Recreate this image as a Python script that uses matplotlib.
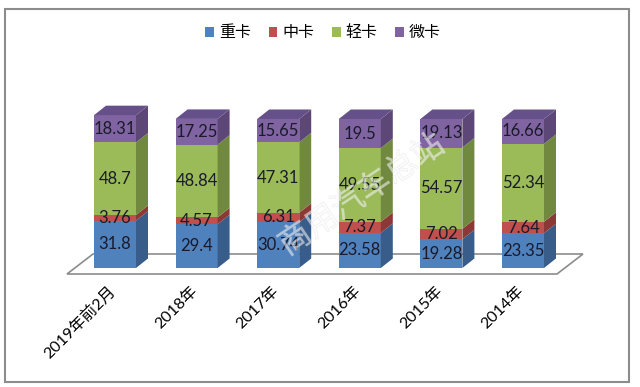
# -*- coding: utf-8 -*-

import numpy as np
from matplotlib import pyplot as plt
from matplotlib.patches import Polygon, Rectangle, Patch
from matplotlib import patheffects as pe

plt.rcParams['font.family'] = ['Lato', 'Noto Sans CJK SC', 'DejaVu Sans']

categories = ['2019年前2月', '2018年', '2017年', '2016年', '2015年', '2014年']
series_names = ['重卡', '中卡', '轻卡', '微卡']
heavy = [31.8, 29.4, 30.74, 23.58, 19.28, 23.35]
medium = [3.76, 4.57, 6.31, 7.37, 7.02, 7.64]
light = [48.7, 48.84, 47.31, 49.55, 54.57, 52.34]
micro = [18.31, 17.25, 15.65, 19.5, 19.13, 16.66]

front_cols = ['#4F81BD', '#C0504D', '#9BBB59', '#8064A2']
side_cols = ['#385D8A', '#8C3836', '#71893F', '#5C4776']
top_cols = ['#446EA3', '#A54543', '#86A34B', '#66508A']

W, H = 640, 387
fig = plt.figure(figsize=(W / 100, H / 100), dpi=100)

# axes: x index 0 at px 115, 81.6 px per bar; y=0 at px 268, 1.49 px per unit
px_x0, px_y0, sx, sy = 115, 268, 81.6, 1.49
ax_l, ax_r, ax_t, ax_b = 60, 600, 100, 300
ax = fig.add_axes([ax_l / W, (H - ax_b) / H, (ax_r - ax_l) / W, (ax_b - ax_t) / H])
ax.set_xlim((ax_l - px_x0) / sx, (ax_r - px_x0) / sx)
ax.set_ylim((px_y0 - ax_b) / sy, (px_y0 - ax_t) / sy)
ax.axis('off')

# floor
fy0, fy1 = (px_y0 - 274) / sy, (px_y0 - 254) / sy
fx0, fx1, fdx = (67 - px_x0) / sx, (557 - px_x0) / sx, 26 / sx
ax.add_patch(Polygon([(fx0, fy0), (fx1, fy0), (fx1 + fdx, fy1), (fx0 + fdx, fy1)],
                     closed=True, facecolor='white', edgecolor='#8c8c8c', lw=1.2, zorder=1))

x = np.arange(len(categories))
width = 42 / sx
dx, dy = 12 / sx, 9.5 / sy
data = [heavy, medium, light, micro]
bottom = np.zeros(len(categories))
for k, vals in enumerate(data):
    vals = np.array(vals)
    ax.bar(x, vals, width, bottom=bottom, color=front_cols[k], zorder=3, lw=0)
    for i in range(len(x)):
        xr = x[i] + width / 2
        b, t = bottom[i], bottom[i] + vals[i]
        ax.add_patch(Polygon([(xr, b), (xr + dx, b + dy), (xr + dx, t + dy), (xr, t)],
                             closed=True, facecolor=side_cols[k], lw=0, zorder=3))
        ax.text(x[i], (b + t) / 2, f'{vals[i]:g}', ha='center', va='center',
                fontsize=12, color='#1a1a2a', zorder=5)
    bottom = bottom + vals

# top faces
for i in range(len(x)):
    xl, xr, t = x[i] - width / 2, x[i] + width / 2, bottom[i]
    ax.add_patch(Polygon([(xl, t), (xr, t), (xr + dx, t + dy), (xl + dx, t + dy)],
                         closed=True, facecolor=top_cols[3], lw=0, zorder=3))

# category labels
for i, c in enumerate(categories):
    ax.text(x[i] - 0.02, (px_y0 - 289) / sy, c, rotation=45, rotation_mode='anchor',
            ha='right', va='center', fontsize=11.5, color='black', clip_on=False)

# watermark
fig.text(362 / W, 1 - 195 / H, '商用汽车总站', rotation=34, ha='center', va='center',
         fontsize=23, color='white', alpha=0.3, family=['Noto Sans CJK SC'],
         fontweight='light',
         path_effects=[pe.withStroke(linewidth=0.8, foreground='#d0d0d0')], zorder=10)

handles = [Patch(facecolor=c, edgecolor='none') for c in front_cols]
fig.legend(handles, series_names, loc='center', bbox_to_anchor=(323 / W, 1 - 33 / H),
           ncol=4, frameon=False, fontsize=11.5, handlelength=0.55, handleheight=0.55,
           handletextpad=0.3, columnspacing=1.1)

fig.patches.append(Rectangle((5 / W, 1 - 382 / H), 624 / W, 373 / H, transform=fig.transFigure,
                             fill=False, edgecolor='#8c8c8c', lw=1.5))

fig.savefig('out.png', dpi=100)
